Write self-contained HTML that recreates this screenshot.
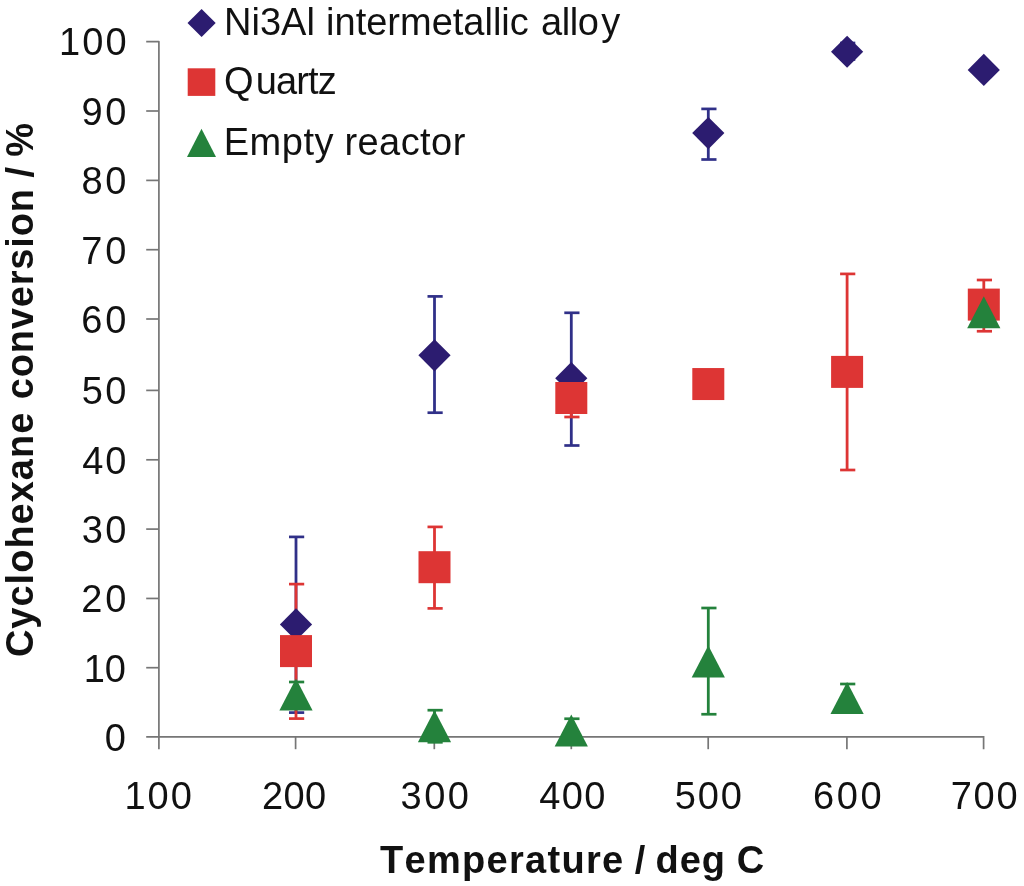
<!DOCTYPE html>
<html lang="en">
<head>
<meta charset="utf-8">
<title>Cyclohexane conversion vs temperature</title>
<style>
html,body{margin:0;padding:0;background:#ffffff;}
body{width:1024px;height:886px;overflow:hidden;}
svg{display:block;}
svg text{font-family:"Liberation Sans",Arial,Helvetica,sans-serif;font-size:38px;fill:#111111;font-kerning:none;}
svg text.b{font-weight:bold;}
</style>
</head>
<body>
<svg width="1024" height="886" viewBox="0 0 1024 886">
<rect x="0" y="0" width="1024" height="886" fill="#ffffff"/>
<g id="axes">
<path d="M146.2 41.60H158.9V749.2" stroke="#767676" stroke-width="1.7" fill="none" stroke-linejoin="round"/>
<path d="M146.2 736.90H983.6V749.2" stroke="#767676" stroke-width="1.7" fill="none"/>
<path d="M146.2 667.70H158.9" stroke="#767676" stroke-width="1.7" fill="none"/>
<path d="M146.2 598.45H158.9" stroke="#767676" stroke-width="1.7" fill="none"/>
<path d="M146.2 529.10H158.9" stroke="#767676" stroke-width="1.7" fill="none"/>
<path d="M146.2 459.80H158.9" stroke="#767676" stroke-width="1.7" fill="none"/>
<path d="M146.2 390.40H158.9" stroke="#767676" stroke-width="1.7" fill="none"/>
<path d="M146.2 319.00H158.9" stroke="#767676" stroke-width="1.7" fill="none"/>
<path d="M146.2 249.70H158.9" stroke="#767676" stroke-width="1.7" fill="none"/>
<path d="M146.2 180.40H158.9" stroke="#767676" stroke-width="1.7" fill="none"/>
<path d="M146.2 111.00H158.9" stroke="#767676" stroke-width="1.7" fill="none"/>
<path d="M295.60 736.90V749.2" stroke="#767676" stroke-width="1.7" fill="none"/>
<path d="M434.30 736.90V749.2" stroke="#767676" stroke-width="1.7" fill="none"/>
<path d="M571.30 736.90V749.2" stroke="#767676" stroke-width="1.7" fill="none"/>
<path d="M708.20 736.90V749.2" stroke="#767676" stroke-width="1.7" fill="none"/>
<path d="M846.90 736.90V749.2" stroke="#767676" stroke-width="1.7" fill="none"/>
</g>
<g id="ticklabels">
<text y="751.40"><tspan x="104.72" style="letter-spacing:0.000px">0</tspan></text>
<text y="681.70"><tspan x="83.68" style="letter-spacing:0.000px">10</tspan></text>
<text y="612.45"><tspan x="81.29" style="letter-spacing:2.928px">20</tspan></text>
<text y="543.10"><tspan x="81.75" style="letter-spacing:2.464px">30</tspan></text>
<text y="473.80"><tspan x="82.33" style="letter-spacing:1.889px">40</tspan></text>
<text y="404.40"><tspan x="81.68" style="letter-spacing:2.538px">50</tspan></text>
<text y="333.00"><tspan x="81.27" style="letter-spacing:2.946px">60</tspan></text>
<text y="263.70"><tspan x="81.25" style="letter-spacing:2.965px">70</tspan></text>
<text y="194.40"><tspan x="81.55" style="letter-spacing:2.668px">80</tspan></text>
<text y="125.00"><tspan x="81.42" style="letter-spacing:2.798px">90</tspan></text>
<text y="54.80"><tspan x="59.08" style="letter-spacing:2.101px">100</tspan></text>
<text y="808.70"><tspan x="124.38" style="letter-spacing:2.101px">100</tspan></text>
<text y="808.70"><tspan x="261.99" style="letter-spacing:0.397px">200</tspan></text>
<text y="808.70"><tspan x="400.55" style="letter-spacing:2.515px">300</tspan></text>
<text y="808.70"><tspan x="539.33" style="letter-spacing:1.328px">400</tspan></text>
<text y="808.70"><tspan x="674.68" style="letter-spacing:1.952px">500</tspan></text>
<text y="808.70"><tspan x="813.07" style="letter-spacing:2.556px">600</tspan></text>
<text y="808.70"><tspan x="950.75" style="letter-spacing:1.716px">700</tspan></text>
</g>
<g id="titles">
<text class="b" y="873.00"><tspan x="380.07" style="letter-spacing:1.294px">Temperature</tspan> <tspan x="634.83" style="letter-spacing:0.000px">/</tspan> <tspan x="655.54" style="letter-spacing:0.921px">deg</tspan> <tspan x="736.74" style="letter-spacing:0.000px">C</tspan></text>
<text class="b" transform="translate(33.4 700.0) rotate(-90)"><tspan x="42.94" style="letter-spacing:0.992px">Cyclohexane</tspan> <tspan x="300.82" style="letter-spacing:0.824px">conversion</tspan> <tspan x="522.43" style="letter-spacing:0.000px">/</tspan> <tspan x="543.25" style="letter-spacing:0.000px">%</tspan></text>
</g>
<g id="errorbars">
<path d="M296.00 536.90V712.60" stroke="#303088" stroke-width="2.8" fill="none"/>
<path d="M289.00 536.90H304.20" stroke="#303088" stroke-width="2.7" fill="none"/>
<path d="M289.00 712.60H304.20" stroke="#303088" stroke-width="2.7" fill="none"/>
<path d="M434.50 296.40V412.70" stroke="#303088" stroke-width="2.8" fill="none"/>
<path d="M427.50 296.40H442.70" stroke="#303088" stroke-width="2.7" fill="none"/>
<path d="M427.50 412.70H442.70" stroke="#303088" stroke-width="2.7" fill="none"/>
<path d="M571.30 312.80V445.50" stroke="#303088" stroke-width="2.8" fill="none"/>
<path d="M564.30 312.80H579.50" stroke="#303088" stroke-width="2.7" fill="none"/>
<path d="M564.30 445.50H579.50" stroke="#303088" stroke-width="2.7" fill="none"/>
<path d="M708.30 108.90V159.50" stroke="#303088" stroke-width="2.8" fill="none"/>
<path d="M701.30 108.90H716.50" stroke="#303088" stroke-width="2.7" fill="none"/>
<path d="M701.30 159.50H716.50" stroke="#303088" stroke-width="2.7" fill="none"/>
<path d="M847.10 43.00V59.50" stroke="#303088" stroke-width="2.8" fill="none"/>
<path d="M840.10 43.00H855.30" stroke="#303088" stroke-width="2.7" fill="none"/>
<path d="M840.10 59.50H855.30" stroke="#303088" stroke-width="2.7" fill="none"/>
<path d="M296.00 584.10V718.60" stroke="#dd3534" stroke-width="2.8" fill="none"/>
<path d="M289.00 584.10H304.20" stroke="#dd3534" stroke-width="2.7" fill="none"/>
<path d="M289.00 718.60H304.20" stroke="#dd3534" stroke-width="2.7" fill="none"/>
<path d="M434.50 526.90V608.40" stroke="#dd3534" stroke-width="2.8" fill="none"/>
<path d="M427.50 526.90H442.70" stroke="#dd3534" stroke-width="2.7" fill="none"/>
<path d="M427.50 608.40H442.70" stroke="#dd3534" stroke-width="2.7" fill="none"/>
<path d="M571.30 379.00V417.00" stroke="#dd3534" stroke-width="2.8" fill="none"/>
<path d="M564.30 379.00H579.50" stroke="#dd3534" stroke-width="2.7" fill="none"/>
<path d="M564.30 417.00H579.50" stroke="#dd3534" stroke-width="2.7" fill="none"/>
<path d="M847.10 273.90V470.00" stroke="#dd3534" stroke-width="2.8" fill="none"/>
<path d="M840.10 273.90H855.30" stroke="#dd3534" stroke-width="2.7" fill="none"/>
<path d="M840.10 470.00H855.30" stroke="#dd3534" stroke-width="2.7" fill="none"/>
<path d="M983.80 280.00V331.25" stroke="#dd3534" stroke-width="2.8" fill="none"/>
<path d="M976.80 280.00H992.00" stroke="#dd3534" stroke-width="2.7" fill="none"/>
<path d="M976.80 331.25H992.00" stroke="#dd3534" stroke-width="2.7" fill="none"/>
<path d="M296.00 682.00V707.20" stroke="#24823c" stroke-width="2.8" fill="none"/>
<path d="M289.00 682.00H304.20" stroke="#24823c" stroke-width="2.7" fill="none"/>
<path d="M289.00 707.20H304.20" stroke="#24823c" stroke-width="2.7" fill="none"/>
<path d="M434.50 710.20V742.30" stroke="#24823c" stroke-width="2.8" fill="none"/>
<path d="M427.50 710.20H442.70" stroke="#24823c" stroke-width="2.7" fill="none"/>
<path d="M427.50 742.30H442.70" stroke="#24823c" stroke-width="2.7" fill="none"/>
<path d="M571.30 718.75V742.00" stroke="#24823c" stroke-width="2.8" fill="none"/>
<path d="M564.30 718.75H579.50" stroke="#24823c" stroke-width="2.7" fill="none"/>
<path d="M564.30 742.00H579.50" stroke="#24823c" stroke-width="2.7" fill="none"/>
<path d="M708.30 608.00V714.25" stroke="#24823c" stroke-width="2.8" fill="none"/>
<path d="M701.30 608.00H716.50" stroke="#24823c" stroke-width="2.7" fill="none"/>
<path d="M701.30 714.25H716.50" stroke="#24823c" stroke-width="2.7" fill="none"/>
<path d="M847.10 684.00V712.40" stroke="#24823c" stroke-width="2.8" fill="none"/>
<path d="M840.10 684.00H855.30" stroke="#24823c" stroke-width="2.7" fill="none"/>
<path d="M840.10 712.40H855.30" stroke="#24823c" stroke-width="2.7" fill="none"/>
</g>
<g id="markers">
<path d="M296.00 608.30L312.10 624.40L296.00 640.50L279.90 624.40Z" fill="#2c1c70"/>
<path d="M434.50 339.20L450.60 355.30L434.50 371.40L418.40 355.30Z" fill="#2c1c70"/>
<path d="M571.30 362.10L587.40 378.20L571.30 394.30L555.20 378.20Z" fill="#2c1c70"/>
<path d="M708.30 117.00L724.40 133.10L708.30 149.20L692.20 133.10Z" fill="#2c1c70"/>
<path d="M847.10 35.65L863.20 51.75L847.10 67.85L831.00 51.75Z" fill="#2c1c70"/>
<path d="M983.80 53.80L999.90 69.90L983.80 86.00L967.70 69.90Z" fill="#2c1c70"/>
<rect x="280.00" y="635.10" width="32.00" height="32.00" fill="#dd3534"/>
<rect x="418.50" y="551.20" width="32.00" height="32.00" fill="#dd3534"/>
<rect x="555.30" y="382.00" width="32.00" height="32.00" fill="#dd3534"/>
<rect x="692.30" y="368.05" width="32.00" height="32.00" fill="#dd3534"/>
<rect x="831.10" y="355.90" width="32.00" height="32.00" fill="#dd3534"/>
<rect x="967.80" y="288.60" width="32.00" height="32.00" fill="#dd3534"/>
<path d="M296.00 678.60L312.60 710.60L279.40 710.60Z" fill="#24823c"/>
<path d="M434.50 710.20L451.10 742.20L417.90 742.20Z" fill="#24823c"/>
<path d="M571.30 714.40L587.90 746.40L554.70 746.40Z" fill="#24823c"/>
<path d="M708.30 645.50L724.90 677.50L691.70 677.50Z" fill="#24823c"/>
<path d="M847.10 682.00L863.70 714.00L830.50 714.00Z" fill="#24823c"/>
<path d="M983.80 296.20L1000.40 328.20L967.20 328.20Z" fill="#24823c"/>
</g>
<g id="legend">
<path d="M201.60 8.90L215.70 23.00L201.60 37.10L187.50 23.00Z" fill="#2c1c70"/>
<rect x="187.70" y="68.30" width="27.60" height="27.60" fill="#dd3534"/>
<path d="M201.50 128.80L216.00 157.00L187.00 157.00Z" fill="#24823c"/>
<text y="34.70"><tspan x="224.08" style="letter-spacing:-0.012px">Ni3Al</tspan> <tspan x="326.06" style="letter-spacing:0.001px">intermetallic</tspan> <tspan x="540.99" style="letter-spacing:-0.447px">allo</tspan><tspan x="601.21" style="letter-spacing:0.000px">y</tspan></text>
<text y="93.70"><tspan x="224.00" style="letter-spacing:0.000px">Q</tspan><tspan x="255.63" style="letter-spacing:-0.830px">uartz</tspan></text>
<text y="155.00"><tspan x="223.68" style="letter-spacing:0.525px">Empty</tspan> <tspan x="344.38" style="letter-spacing:0.448px">reactor</tspan></text>
</g>
</svg>
</body>
</html>
